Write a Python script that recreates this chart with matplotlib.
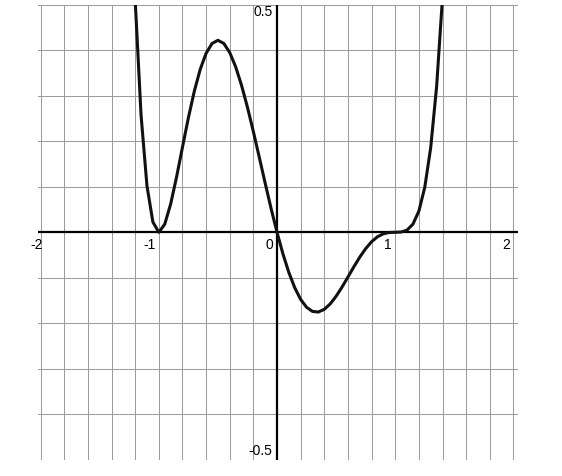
import matplotlib.pyplot as plt

# curve points
xs = [-1.25, -1.2, -1.15, -1.1, -1.05, -1.0, -0.95, -0.9, -0.85, -0.8, -0.75, -0.7,
      -0.65, -0.6, -0.55, -0.5, -0.45, -0.4, -0.35, -0.3, -0.25, -0.2, -0.15, -0.1,
      -0.05, 0.0, 0.05, 0.1, 0.15, 0.2, 0.25, 0.3, 0.35, 0.4, 0.45, 0.5, 0.55, 0.6,
      0.65, 0.7, 0.75, 0.8, 0.85, 0.9, 0.95, 1.0, 1.05, 1.1, 1.15, 1.2, 1.25, 1.3,
      1.35, 1.4, 1.45]
ys = [0.890, 0.511, 0.2572, 0.1019, 0.0226, 0.0, 0.0176, 0.0617, 0.1211, 0.1866,
      0.2512, 0.3095, 0.3577, 0.3932, 0.4148, 0.4219, 0.4150, 0.3951, 0.3638, 0.3230,
      0.2747, 0.2212, 0.1648, 0.1078, 0.0522, 0.0, -0.0473, -0.0882, -0.1218, -0.1475,
      -0.1648, -0.1739, -0.1752, -0.1693, -0.1574, -0.1406, -0.1204, -0.0983, -0.0759,
      -0.0546, -0.0359, -0.0207, -0.0098, -0.00325, -0.00045, 0.0, 0.00055, 0.00485,
      0.0179, 0.0465, 0.0989, 0.1857, 0.3197, 0.5161, 0.7931]

x_labels = [-2, -1, 0, 1, 2]
y_labels = [0.5, -0.5]

fig = plt.figure(figsize=(5.62, 4.76), dpi=100)
ax = fig.add_axes([0.068, 0.034, 0.854, 0.956])
ax.set_xlim(-2.02, 2.04)
ax.set_ylim(-0.5, 0.5)
for s in ax.spines.values():
    s.set_visible(False)
ax.set_xticks([])
ax.set_yticks([])

gx = [i * 0.2 for i in range(-10, 11)]
gy = [i * 0.1 for i in range(-5, 6)]
for g in gx:
    ax.axvline(g, color='#999999', lw=0.7, zorder=1)
for g in gy:
    ax.axhline(g, color='#999999', lw=0.7, zorder=1)
ax.axhline(0, color='black', lw=1.6, zorder=2)
ax.axvline(0, color='black', lw=1.6, zorder=2)

ax.plot(xs, ys, color='#111111', lw=2.2, zorder=3, clip_on=True)

for v in x_labels:
    ax.text(v - 0.03, -0.012, str(v), ha='right' if v != -2 else 'center', va='top',
            fontsize=10, family='Liberation Sans')
for v in y_labels:
    ax.text(-0.04, v + (-0.015 if v > 0 else 0.003), str(v), ha='right',
            va='center' if v > 0 else 'bottom', fontsize=10, family='Liberation Sans')

fig.savefig('out.png', dpi=100)
